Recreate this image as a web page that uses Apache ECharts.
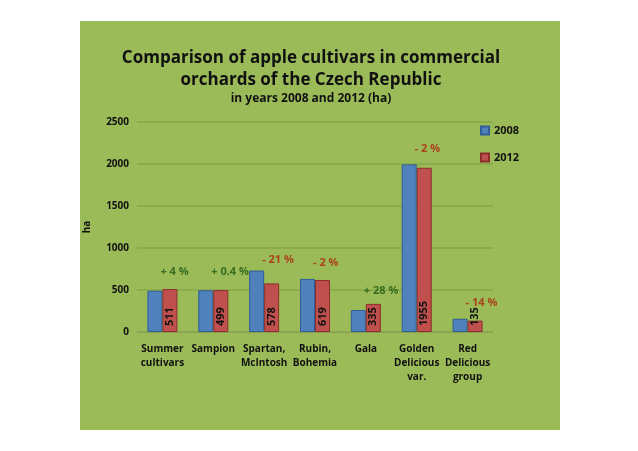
<!DOCTYPE html>
<html><head><meta charset="utf-8">
<script src="https://cdn.jsdelivr.net/npm/echarts@6/dist/echarts.min.js"></script>
<style>html,body{margin:0;background:#fff}#c{width:638px;height:451px}</style>
</head><body><div id="c"></div>
<script>
const categories = ["Summer\ncultivars","Sampion","Spartan,\nMcIntosh","Rubin,\nBohemia","Gala","Golden\nDelicious\nvar.","Red\nDelicious\ngroup"];
const values2008 = [491, 497, 732, 632, 262, 1995, 157];
const values2012 = [511, 499, 578, 619, 335, 1955, 135];
const pctLabels = ["+ 4 %","+ 0.4 %","- 21 %","- 2 %","+ 28 %","- 2 %","- 14 %"];
const pctY = [714, 714, 857, 821, 488, 2179, 345];
const pctColor = ["#1e5a12","#1e5a12","#b0240c","#b0240c","#1e5a12","#b0240c","#b0240c"];
const yTicks = [0, 500, 1000, 1500, 2000, 2500];
const font = "Open Sans";
const chart = echarts.init(document.getElementById('c'));
chart.setOption({
  animation:false,
  textStyle:{fontFamily:font},
  graphic:[{type:'rect',shape:{x:80,y:21,width:480,height:409},style:{fill:'#9bbb59'},z:-10}],
  title:{text:'Comparison of apple cultivars in commercial\norchards of the Czech Republic',subtext:'in years 2008 and 2012 (ha)',
    left:306,top:42,textAlign:'center',itemGap:2,
    textStyle:{fontSize:17,fontWeight:'bold',color:'#111',lineHeight:22,fontFamily:font},
    subtextStyle:{fontSize:12,fontWeight:'bold',color:'#111',fontFamily:font}},
  legend:{orient:'vertical',left:475,top:120,itemGap:16,itemWidth:8,itemHeight:8,icon:'rect',
    textStyle:{fontSize:11,fontWeight:'bold',color:'#111'},data:['2008','2012']},
  grid:{left:137,right:145,top:122,bottom:119},
  xAxis:{type:'category',data:categories,axisTick:{show:false},axisLine:{lineStyle:{color:'#8aa050'}},
    axisLabel:{interval:0,fontSize:10,fontWeight:'bold',color:'#111',lineHeight:14,margin:10}},
  yAxis:{type:'value',min:0,max:2500,interval:500,name:'ha',nameLocation:'middle',nameGap:45,
    nameTextStyle:{fontSize:10,fontWeight:'bold',color:'#111'},
    axisLabel:{fontSize:10,fontWeight:'bold',color:'#111',formatter:v=>yTicks.includes(v)?String(v):''},
    splitLine:{lineStyle:{color:'#86a64c',width:1.5}},axisLine:{show:false}},
  series:[
    {name:'2008',type:'bar',data:values2008,barWidth:15,barGap:'0%',itemStyle:{color:'#4f81bd',borderColor:'#2f5d95',borderWidth:1}},
    {name:'2012',type:'bar',data:values2012,barWidth:15,itemStyle:{color:'#c0504d',borderColor:'#8c2d2a',borderWidth:1},
      label:{show:true,position:'insideBottom',rotate:90,align:'left',verticalAlign:'middle',distance:6,fontSize:11,fontWeight:'bold',color:'#111'}},
    {type:'scatter',symbolSize:2,itemStyle:{color:'rgba(0,0,0,0)'},silent:true,z:10,
      data:pctY.map((v,i)=>({value:[i,v],label:{color:pctColor[i]}})),
      label:{show:true,position:'right',offset:[-8,0],fontSize:11,fontWeight:'bold',formatter:p=>pctLabels[p.dataIndex]}}
  ]
});
</script></body></html>
